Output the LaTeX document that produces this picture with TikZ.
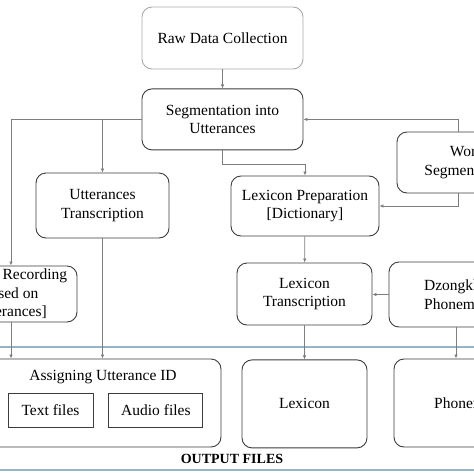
\documentclass[tikz,border=0pt]{standalone}
\usepackage{fontspec}
\setmainfont{Liberation Serif}
\usepackage{xcolor}
\usetikzlibrary{positioning, arrows.meta, calc}
\definecolor{boxline}{RGB}{60, 60, 60}
\definecolor{flowgray}{RGB}{125, 125, 125}
\definecolor{rawline}{RGB}{170, 170, 170}
\definecolor{sepblue}{RGB}{150, 180, 200}

\begin{document}
\begin{tikzpicture}[x=1pt, y=-1pt,
        font=\fontsize{15.5}{18.5}\selectfont,
        procbox/.style={draw=boxline, line width=0.9pt, rectangle, rounded corners=10pt, align=center, inner sep=0pt},
        filebox/.style={draw=boxline, line width=0.9pt, rectangle, align=center, inner sep=0pt, minimum height=34pt},
        flow/.style={draw=flowgray, line width=0.7pt, -{Latex[length=4pt, width=3.5pt]}}]
        \useasboundingbox (0,0) rectangle (474,474);
        \clip (0,0) rectangle (474,474);

        \node[procbox, draw=rawline, minimum width=161pt, minimum height=62pt] (raw) at (222.5,38) {Raw Data Collection};
        \node[procbox, minimum width=161pt, minimum height=61pt, below=19pt of raw] (seg) {Segmentation into\\Utterances};
        \node[procbox, minimum width=133pt, minimum height=65pt] (utt) at (102.5,205.5) {Utterances\\Transcription};
        \node[procbox, minimum width=148pt, minimum height=60pt] (lexprep) at (305,206) {Lexicon Preparation\\{[Dictionary]}};
        \node[procbox, minimum width=140pt, minimum height=61pt] (wordseg) at (467,162.5) {Word\\Segmentation};
        \node[procbox, minimum width=132pt, minimum height=56pt] (rec) at (11,294) {[Audio Recording\\based on\\Utterances]};
        \node[procbox, minimum width=135pt, minimum height=62pt] (lextrans) at (304.5,294) {Lexicon\\Transcription};
        \node[procbox, minimum width=134pt, minimum height=65pt] (dzo) at (456,294.5) {Dzongkha\\Phonemes};

        % output files
        \node[procbox, minimum width=236pt, minimum height=88pt] (assign) at (103,403) {};
        \node (assigntitle) at ([yshift=-18pt]assign.north) {Assigning Utterance ID};
        \node[filebox, minimum width=85pt] (textf) at (50.5,410) {Text files};
        \node[filebox, minimum width=94pt, right=15pt of textf] (audiof) {Audio files};
        \node[procbox, minimum width=125pt, minimum height=88pt, below=34pt of lextrans] (lexout) {Lexicon};
        \node[procbox, minimum width=144pt, minimum height=88pt] (phon) at (466,403) {Phonemes};
        \node[font=\fontsize{14}{16}\selectfont\bfseries] (outlabel) at (232,459) {OUTPUT FILES};

        \draw[sepblue, line width=1.3pt] (0,347) -- (474,347);
        \draw[sepblue, line width=1.3pt] (0,470) -- (474,470);

        \draw[flow] (raw) -- (seg);
        \draw[flow] (seg.west) -| (rec.north);
        \draw[flow] (utt.north |- seg.west) -- (utt.north);
        \draw[flow] (seg.south) -- ++(0,14) -| (lexprep.north);
        \draw[flow] ([xshift=-9pt]wordseg.north) |- (seg.east);
        \draw[flow] ([xshift=-9pt]wordseg.south) |- (lexprep.east);
        \draw[flow] (lexprep) -- (lextrans);
        \draw[flow] (dzo.west) -- (dzo.west -| lextrans.east);
        \draw[flow] (utt.south) -- (utt.south |- assign.north);
        \draw[flow] (rec.south) -- (rec.south |- assign.north);
        \draw[flow] (lextrans) -- (lexout);
        \draw[flow] (dzo.south) -- (dzo.south |- phon.north);
    \end{tikzpicture}
\end{document}
